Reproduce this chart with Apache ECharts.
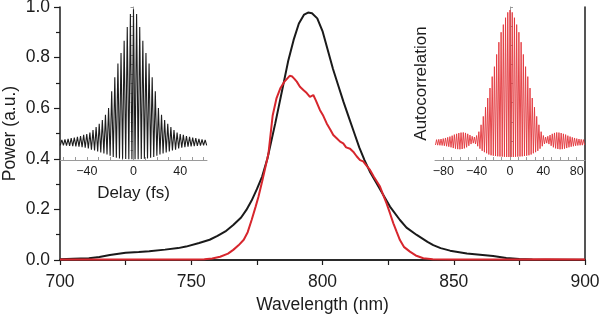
<!DOCTYPE html>
<html>
<head>
<meta charset="utf-8">
<script src="https://cdn.jsdelivr.net/npm/echarts@6/dist/echarts.min.js"></script>
<style>
html, body { margin: 0; padding: 0; background: #fff; }
#main { width: 600px; height: 314px; }
</style>
</head>
<body>
<div id="main"></div>
<script>
// spectrum, black (wavelength nm / power a.u.)
var blackNm = [700, 705, 711, 715, 719, 725, 730, 734, 740, 745, 748, 753, 757, 760, 763, 766, 769, 771, 773, 775, 777, 779, 782, 785, 787, 789, 791, 793, 794.5, 796, 798, 800, 802, 804, 806, 808, 810, 812, 814, 816, 818, 820.6, 823, 825.7, 829.5, 832, 835.9, 840, 842.2, 845, 848.6, 855, 860, 865, 870, 875, 880, 890, 900];
var blackPower = [0.003, 0.005, 0.007, 0.012, 0.02, 0.029, 0.032, 0.035, 0.041, 0.047, 0.053, 0.067, 0.08, 0.095, 0.113, 0.138, 0.168, 0.198, 0.235, 0.28, 0.33, 0.4, 0.54, 0.69, 0.79, 0.87, 0.935, 0.97, 0.978, 0.975, 0.955, 0.905, 0.83, 0.755, 0.69, 0.625, 0.565, 0.505, 0.445, 0.395, 0.35, 0.303, 0.26, 0.211, 0.158, 0.128, 0.099, 0.072, 0.059, 0.047, 0.037, 0.026, 0.021, 0.016, 0.008, 0.004, 0.002, 0.001, 0.001];

// spectrum, red
var redNm = [700, 720, 740, 750, 755, 758, 761, 764, 766, 768, 770, 771.5, 773, 774.5, 775.6, 777, 778, 779.4, 781, 782.5, 784, 785.5, 787.5, 788.5, 789.3, 790.2, 791.4, 792.7, 794, 795.2, 796.5, 797.5, 799, 800.3, 801.6, 803, 804.1, 805.5, 806.7, 807.9, 809, 810.5, 811.7, 813, 814.3, 815.5, 817, 818.1, 819.5, 821, 821.9, 823, 824.4, 825.7, 827, 828.3, 829.5, 831, 833.3, 835.5, 838.4, 842, 850, 870, 885, 900];
var redPower = [0.002, 0.002, 0.002, 0.002, 0.003, 0.006, 0.013, 0.025, 0.04, 0.058, 0.08, 0.11, 0.158, 0.21, 0.25, 0.31, 0.356, 0.42, 0.57, 0.64, 0.68, 0.705, 0.728, 0.725, 0.716, 0.705, 0.685, 0.672, 0.66, 0.645, 0.652, 0.63, 0.593, 0.57, 0.54, 0.515, 0.494, 0.48, 0.468, 0.461, 0.445, 0.44, 0.428, 0.41, 0.395, 0.39, 0.37, 0.356, 0.33, 0.305, 0.29, 0.26, 0.224, 0.185, 0.145, 0.11, 0.079, 0.052, 0.033, 0.018, 0.007, 0.003, 0.002, 0.002, 0.003, 0.002];

// left inset autocorrelation: fringe maxima and minima, read from left to right
var leftPeaks = [0.132, 0.134, 0.138, 0.143, 0.147, 0.151, 0.157, 0.164, 0.17, 0.18, 0.195, 0.215, 0.236, 0.262, 0.295, 0.34, 0.45, 0.54, 0.63, 0.7, 0.78, 0.87, 0.955, 0.985, 0.955, 0.87, 0.78, 0.7, 0.63, 0.54, 0.45, 0.34, 0.295, 0.262, 0.236, 0.215, 0.195, 0.18, 0.17, 0.164, 0.157, 0.151, 0.147, 0.143, 0.138, 0.134, 0.132];
var leftTroughs = [0.096, 0.095, 0.094, 0.093, 0.091, 0.089, 0.087, 0.084, 0.08, 0.075, 0.068, 0.062, 0.055, 0.049, 0.043, 0.036, 0.028, 0.02, 0.014, 0.01, 0.008, 0.006, 0.005, 0.005, 0.005, 0.005, 0.006, 0.008, 0.01, 0.014, 0.02, 0.028, 0.036, 0.043, 0.049, 0.055, 0.062, 0.068, 0.075, 0.08, 0.084, 0.087, 0.089, 0.091, 0.093, 0.094, 0.095, 0.096];

// right inset autocorrelation
var rightPeaks = [0.133, 0.135, 0.137, 0.14, 0.144, 0.148, 0.153, 0.159, 0.166, 0.171, 0.176, 0.179, 0.18, 0.177, 0.171, 0.163, 0.155, 0.15, 0.16, 0.185, 0.23, 0.285, 0.345, 0.405, 0.47, 0.545, 0.61, 0.69, 0.77, 0.835, 0.885, 0.93, 0.965, 0.98, 0.965, 0.93, 0.885, 0.835, 0.77, 0.69, 0.61, 0.545, 0.47, 0.405, 0.345, 0.285, 0.23, 0.185, 0.16, 0.15, 0.155, 0.163, 0.171, 0.177, 0.18, 0.179, 0.176, 0.171, 0.166, 0.159, 0.153, 0.148, 0.144, 0.14, 0.137, 0.135, 0.133];
var rightTroughs = [0.098, 0.097, 0.096, 0.095, 0.093, 0.09, 0.087, 0.083, 0.078, 0.074, 0.071, 0.07, 0.072, 0.076, 0.083, 0.093, 0.104, 0.11, 0.105, 0.09, 0.074, 0.06, 0.051, 0.044, 0.036, 0.031, 0.028, 0.026, 0.024, 0.023, 0.022, 0.021, 0.02, 0.02, 0.02, 0.02, 0.021, 0.022, 0.023, 0.024, 0.026, 0.028, 0.031, 0.036, 0.044, 0.051, 0.06, 0.074, 0.09, 0.105, 0.11, 0.104, 0.093, 0.083, 0.076, 0.072, 0.07, 0.071, 0.074, 0.078, 0.083, 0.087, 0.09, 0.093, 0.095, 0.096, 0.097, 0.098];

// fringe spacing (half optical period, fs) and first minimum of each trace
var halfPeriod = 1.335;
var leftFirstDelay = -62.75;
var rightFirstDelay = -89.45;

// tick labels
var wavelengthTicks = [700, 750, 800, 850, 900];
var leftDelayLabels = [-40, 0, 40];
var leftDelayTicks = [-60, -50, -40, -30, -20, -10, 0, 10, 20, 30, 40, 50, 60];
var rightDelayLabels = [-80, -40, 0, 40, 80];
var rightDelayTicks = [-80, -70, -60, -50, -40, -30, -20, -10, 0, 10, 20, 30, 40, 50, 60, 70, 80];

var FONT = '"Liberation Sans", Arial, Helvetica, sans-serif';
var INK = '#1c1c1c';
var GREY = '#9a9a9a';

function pairs(xs, ys) {
    var out = [];
    for (var i = 0; i < xs.length; i++) out.push([xs[i], ys[i]]);
    return out;
}

// minimum, maximum, minimum, maximum ... one fringe after the other
function fringes(start, troughs, peaks) {
    var out = [];
    for (var i = 0; i < troughs.length; i++) {
        out.push([start + 2 * i * halfPeriod, troughs[i]]);
        if (i < peaks.length) out.push([start + (2 * i + 1) * halfPeriod, peaks[i]]);
    }
    return out;
}

function minus(v) {
    return String(v).replace('-', '\u2212');
}

function insetX(grid, min, max, labels, ticks, name) {
    return {
        gridIndex: grid, type: 'value', min: min, max: max,
        axisLine: { show: true, lineStyle: { color: GREY, width: 1 } },
        axisTick: { show: true, inside: true, length: 3, customValues: ticks, lineStyle: { color: GREY } },
        axisLabel: { customValues: labels, formatter: minus, margin: 5, fontSize: 12.5, color: INK, fontFamily: FONT },
        splitLine: { show: false },
        name: name, nameLocation: 'middle', nameGap: 25,
        nameTextStyle: { fontSize: 17, color: INK, fontFamily: FONT }
    };
}

function insetY(grid, pos, interval, name) {
    return {
        gridIndex: grid, type: 'value', min: 0, max: 1, interval: interval, position: pos,
        axisLine: { show: true, lineStyle: { color: GREY, width: 1 } },
        axisTick: { show: true, inside: true, length: 3, lineStyle: { color: GREY } },
        axisLabel: { show: false },
        splitLine: { show: false },
        name: name || '', nameLocation: 'middle', nameGap: 5,
        nameTextStyle: { fontSize: 17, color: INK, fontFamily: FONT }
    };
}

function getOption() {
    return {
        animation: false,
        backgroundColor: '#fff',
        grid: [
            { left: 60, top: 7, width: 525, height: 253, outerBoundsMode: 'none', containLabel: false },
            { left: 60, top: 7, width: 147, height: 153, outerBoundsMode: 'none', containLabel: false },
            { left: 435, top: 7, width: 150, height: 153, outerBoundsMode: 'none', containLabel: false }
        ],
        xAxis: [
            {
                gridIndex: 0, type: 'value', min: 700, max: 900, interval: 50,
                axisLine: { lineStyle: { color: INK, width: 1.5 } },
                axisTick: { show: true, length: 5, lineStyle: { color: INK, width: 1.2 } },
                minorTick: { show: true, splitNumber: 2, length: 5, lineStyle: { color: INK, width: 1.2 } },
                axisLabel: { margin: 13, fontSize: 17.5, color: INK, fontFamily: FONT, customValues: wavelengthTicks },
                splitLine: { show: false },
                name: 'Wavelength (nm)', nameLocation: 'middle', nameGap: 32,
                nameTextStyle: { fontSize: 17.5, color: INK, fontFamily: FONT }
            },
            {
                gridIndex: 0, type: 'value', min: 700, max: 900, position: 'top',
                axisLine: { show: true, lineStyle: { color: INK, width: 1.5 } },
                axisTick: { show: false }, axisLabel: { show: false }, splitLine: { show: false }
            },
            insetX(1, -63, 63, leftDelayLabels, leftDelayTicks, 'Delay (fs)'),
            insetX(2, -90, 90, rightDelayLabels, rightDelayTicks, '')
        ],
        yAxis: [
            {
                gridIndex: 0, type: 'value', min: 0, max: 1, interval: 0.2,
                axisLine: { show: true, lineStyle: { color: INK, width: 1.5 } },
                axisTick: { show: true, length: 6, lineStyle: { color: INK, width: 1.2 } },
                minorTick: { show: true, splitNumber: 2, length: 4, lineStyle: { color: INK, width: 1.2 } },
                axisLabel: { margin: 10, fontSize: 17.5, color: INK, fontFamily: FONT, formatter: function (v) { return v.toFixed(1); } },
                splitLine: { show: false },
                name: 'Power (a.u.)', nameLocation: 'middle', nameGap: 41, nameMoveOverlap: false,
                nameTextStyle: { fontSize: 17.5, color: INK, fontFamily: FONT }
            },
            {
                gridIndex: 0, type: 'value', min: 0, max: 1, position: 'right',
                axisLine: { show: true, lineStyle: { color: INK, width: 1.5 } },
                axisTick: { show: false }, axisLabel: { show: false }, splitLine: { show: false }
            },
            insetY(1, 'right', 0.0625),
            insetY(2, 'left', 0.125, 'Autocorrelation')
        ],
        series: [
            {
                type: 'line', xAxisIndex: 0, yAxisIndex: 0, showSymbol: false, z: 3,
                data: pairs(blackNm, blackPower),
                lineStyle: { color: '#1a1a1a', width: 2 }
            },
            {
                type: 'line', xAxisIndex: 0, yAxisIndex: 0, showSymbol: false, z: 4,
                data: pairs(redNm, redPower),
                lineStyle: { color: '#d7262d', width: 2 }
            },
            {
                type: 'line', xAxisIndex: 2, yAxisIndex: 2, showSymbol: false,
                data: fringes(leftFirstDelay, leftTroughs, leftPeaks),
                lineStyle: { color: '#1e1e1e', width: 1.1 }
            },
            {
                type: 'line', xAxisIndex: 3, yAxisIndex: 3, showSymbol: false,
                data: fringes(rightFirstDelay, rightTroughs, rightPeaks),
                lineStyle: { color: '#e3353b', width: 0.9 }
            }
        ]
    };
}

var chart = echarts.init(document.getElementById('main'));
chart.setOption(getOption());
</script>
</body>
</html>
